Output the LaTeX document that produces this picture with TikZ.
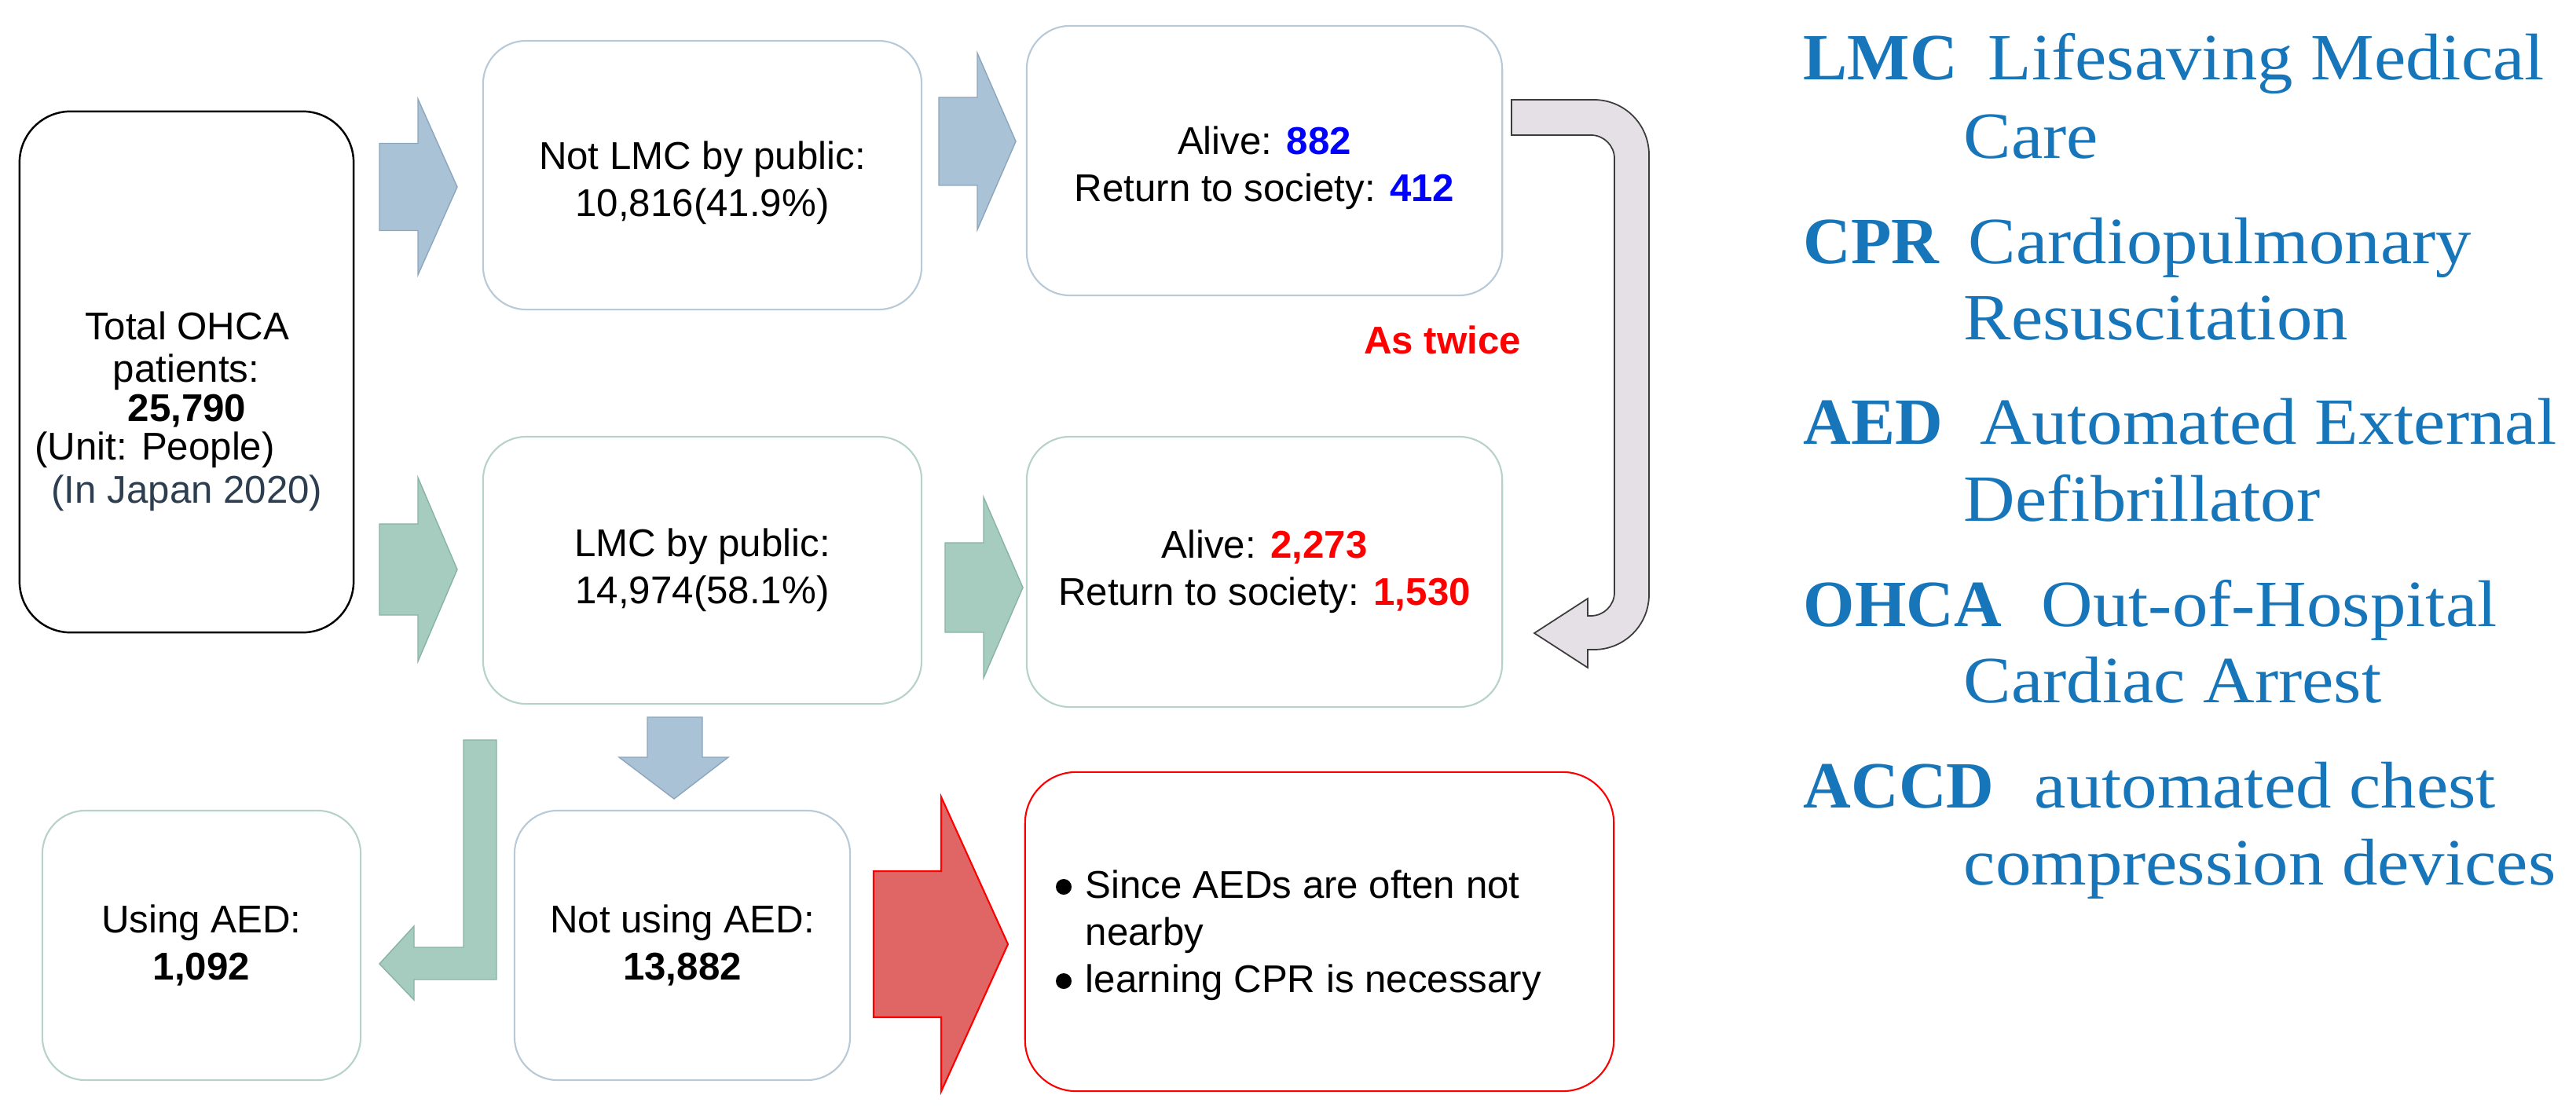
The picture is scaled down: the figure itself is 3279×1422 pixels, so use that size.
\documentclass[tikz,border=0pt]{standalone}
\usepackage{fontspec}
\setmainfont{Liberation Sans}
\newfontfamily\legfont[FakeStretch=1.08]{Liberation Serif}
\newfontfamily\legbfont{Liberation Serif}
\definecolor{boxblue}{RGB}{184,202,216}
\definecolor{boxgreen}{RGB}{182,210,202}
\definecolor{arrblue}{RGB}{170,194,214}
\definecolor{arrblueline}{RGB}{140,166,190}
\definecolor{arrgreen}{RGB}{166,204,191}
\definecolor{arrgreenline}{RGB}{136,180,165}
\definecolor{arrred}{RGB}{224,102,102}
\definecolor{loopfill}{RGB}{229,224,229}
\definecolor{loopline}{RGB}{60,60,60}
\definecolor{legblue}{RGB}{23,117,185}
\definecolor{slate}{RGB}{44,62,80}
\definecolor{numblue}{RGB}{0,0,255}
\definecolor{numred}{RGB}{255,0,0}
\newcommand\rblock[7]{%
  \draw[#1] (#2,#5-#6) -- (#3,#5-#6) -- (#3,#5-#7) -- (#4,#5) -- (#3,#5+#7) -- (#3,#5+#6) -- (#2,#5+#6) -- cycle;}
\begin{document}
\begin{tikzpicture}[x=0.01cm,y=-0.01cm,
  box/.style={draw=boxblue, line width=0.6pt, rounded corners=0.55cm, align=center, inner sep=0pt, font=\fontsize{14}{17}\selectfont},
  gbox/.style={box, draw=boxgreen},
  txt/.style={font=\fontsize{14}{17}\selectfont, inner sep=0pt},
  barrow/.style={fill=arrblue, draw=arrblueline, line width=0.4pt},
  garrow/.style={fill=arrgreen, draw=arrgreenline, line width=0.4pt},
  rarrow/.style={fill=arrred, draw=red, line width=0.6pt},
  looparrow/.style={fill=loopfill, draw=loopline, line width=0.5pt},
  leg/.style={font=\legfont\fontsize{23.9}{29}\selectfont, text=legblue, anchor=base west, inner sep=0pt},
  legb/.style={leg, font=\legbfont\fontsize{23.9}{29}\selectfont\bfseries},
]
\useasboundingbox (0,0) rectangle (3279,1422);
\fill[white] (0,0) rectangle (3279,1422);

% boxes
\node[box, draw=black, line width=0.7pt, rounded corners=0.65cm, minimum width=4.25cm, minimum height=6.63cm] (total) at (237.5,473.5) {};
\node[box, minimum width=5.58cm, minimum height=3.42cm] (notlmc) at (894,223) {};
\node[txt, align=center] (notlmctxt) at (894,233) {Not LMC by public:\\10,816(41.9\%)};
\node[box, minimum width=6.05cm, minimum height=3.43cm] (alive1) at (1609.5,204.5) {};
\node[txt, align=center] (alive1txt) at (1609.5,214) {Alive: \textbf{\textcolor{numblue}{882}}\\Return to society: \textbf{\textcolor{numblue}{412}}};
\node[gbox, minimum width=5.58cm, minimum height=3.40cm] (lmcpub) at (894,726) {LMC by public:\\14,974(58.1\%)};
\node[gbox, minimum width=6.05cm, minimum height=3.44cm] (alive2) at (1609.5,728) {Alive: \textbf{\textcolor{numred}{2,273}}\\Return to society: \textbf{\textcolor{numred}{1,530}}};
\node[gbox, minimum width=4.05cm, minimum height=3.43cm] (usingaed) at (256.5,1203.5) {Using AED:\\\textbf{1,092}};
\node[box, minimum width=4.27cm, minimum height=3.43cm] (notusing) at (868.5,1203.5) {Not using AED:\\\textbf{13,882}};
\node[box, draw=red, rounded corners=0.65cm, minimum width=7.49cm, minimum height=4.06cm] (reasons) at (1679.5,1186) {};

% total box text
\node[txt, anchor=base] (t1) at (238,433) {Total OHCA};
\node[txt, anchor=base] (t2) at (237,487) {patients:};
\node[txt, anchor=base, font=\fontsize{14}{17}\selectfont\bfseries] (t3) at (238,537) {25,790};
\node[txt, anchor=base] (t4) at (197,586) {(Unit: People)};
\node[txt, anchor=base, text=slate] (t5) at (238,640) {(In Japan 2020)};

% reasons text
\node[circle, fill=black, inner sep=0pt, minimum size=0.2cm] (b1) at (1354,1129) {};
\node[circle, fill=black, inner sep=0pt, minimum size=0.2cm] (b2) at (1354,1249) {};
\node[txt, anchor=base west] (r1) at (1381,1143) {Since AEDs are often not};
\node[txt, anchor=base west] (r2) at (1381,1203) {nearby};
\node[txt, anchor=base west] (r3) at (1381,1263) {learning CPR is necessary};

% as twice
\node[txt, font=\fontsize{14}{17}\selectfont\bfseries, text=red] (twice) at (1836,433) {As twice};

% block arrows
\rblock{barrow}{483}{532}{582}{238}{55.5}{112}
\rblock{garrow}{483}{532}{582}{725}{58}{117}
\rblock{barrow}{1195}{1244}{1293}{180}{56}{112.5}
\rblock{garrow}{1203}{1252}{1302}{748}{57}{115}
\rblock{rarrow}{1112}{1198}{1283}{1202}{93}{187.5}
\draw[barrow] (824,913) -- (894,913) -- (894,964) -- (927,964) -- (858,1017) -- (788,964) -- (824,964) -- cycle;
\draw[garrow] (590,942) -- (632,942) -- (632,1247) -- (527,1247) -- (527,1273) -- (483,1227) -- (527,1179) -- (527,1206) -- (590,1206) -- cycle;
\draw[looparrow] (1924,127) -- (2029,127) .. controls (2067.7,127) and (2099,158.3) .. (2099,197)
  -- (2099,757) .. controls (2099,795.7) and (2067.7,827) .. (2029,827)
  -- (2021,827) -- (2021,850) -- (1953,806) -- (2021,762) -- (2021,784)
  -- (2025,784) .. controls (2041.6,784) and (2055,770.6) .. (2055,754)
  -- (2055,202) .. controls (2055,185.4) and (2041.6,172) .. (2025,172)
  -- (1924,172) -- cycle;

% legend
\node[legb] (k1) at (2295,102) {LMC};
\node[leg] (d1) at (2530,102) {Lifesaving Medical};
\node[leg] (e1) at (2499,202) {Care};
\node[legb] (k2) at (2295,336) {CPR};
\node[leg] (d2) at (2505,336) {Cardiopulmonary};
\node[leg] (e2) at (2499,433) {Resuscitation};
\node[legb] (k3) at (2295,566) {AED};
\node[leg] (d3) at (2520,566) {Automated External};
\node[leg] (e3) at (2499,663) {Defibrillator};
\node[legb] (k4) at (2295,797) {OHCA};
\node[leg] (d4) at (2598,797) {Out-of-Hospital};
\node[leg] (e4) at (2499,894) {Cardiac Arrest};
\node[legb] (k5) at (2295,1028) {ACCD};
\node[leg] (d5) at (2589,1028) {automated chest};
\node[leg] (e5) at (2499,1126) {compression devices};
\end{tikzpicture}
\end{document}
